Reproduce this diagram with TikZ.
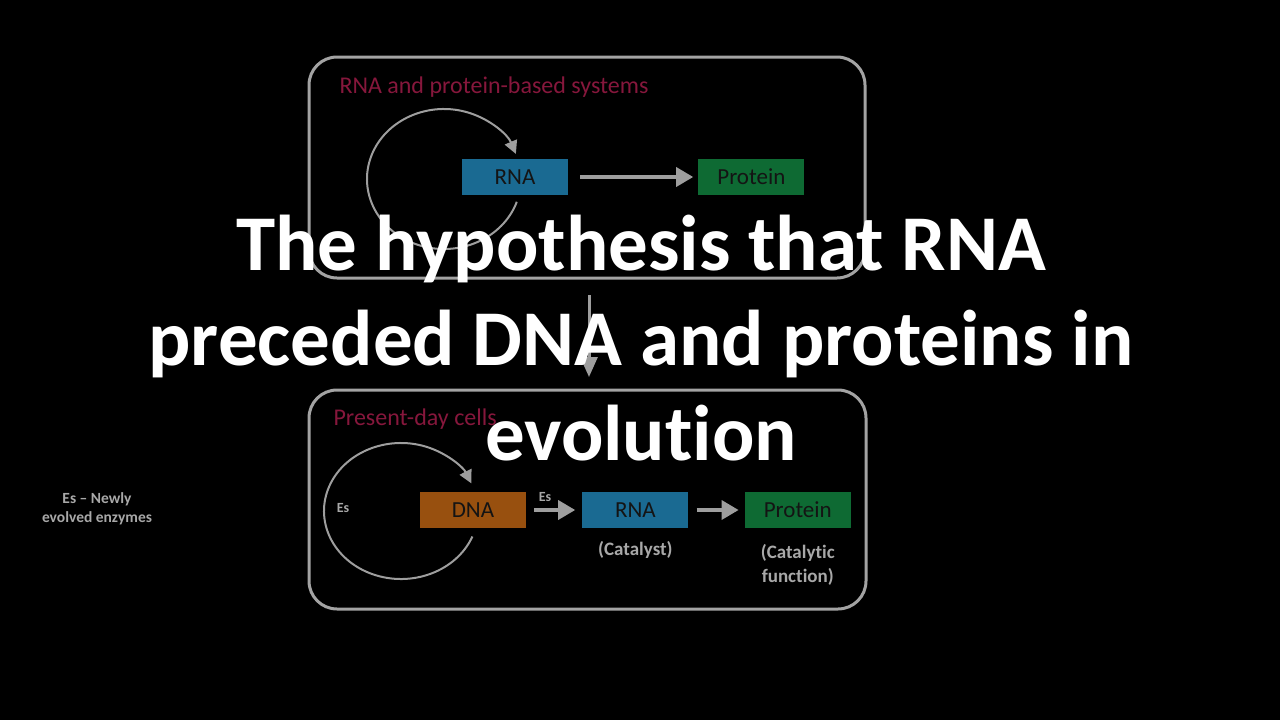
\documentclass[tikz,border=0pt]{standalone}
\usepackage{fontspec}
\setmainfont{Carlito}[Ligatures=NoCommon]
\usetikzlibrary{arrows.meta, calc, positioning}

\definecolor{framegray}{HTML}{A3A3A3}
\definecolor{arrowgray}{HTML}{9E9E9E}
\definecolor{labelred}{HTML}{86173C}
\definecolor{rnablue}{HTML}{1A6A92}
\definecolor{protgreen}{HTML}{0E6A33}
\definecolor{dnabrown}{HTML}{98500F}
\definecolor{boxtext}{HTML}{141414}
\definecolor{notegray}{HTML}{A8A8A8}

\begin{document}
\begin{tikzpicture}[
    x=1pt, y=-1pt,
    >={Triangle[length=17pt, width=19pt]},
    frame/.style={draw=framegray, line width=3pt, rounded corners=28pt},
    block/.style={rectangle, inner sep=0pt, text=boxtext,
        minimum width=106pt, minimum height=36pt,
        font=\fontsize{23}{26}\selectfont},
    flow/.style={->, draw=arrowgray, line width=3.5pt},
    loop/.style={draw=arrowgray, line width=2pt,
        -{Triangle[length=13pt, width=13pt]}},
    heading/.style={anchor=west, text=labelred, font=\fontsize{24}{28}\selectfont},
    note/.style={text=notegray, align=center, font=\bfseries\fontsize{19}{24}\selectfont},
    small/.style={text=notegray, font=\bfseries\fontsize{14}{14}\selectfont}
]

    % background
    \fill[black] (0,0) rectangle (1280,720);

    % Frames -----------------------------------------------------

    \draw[frame] (309,57) rectangle (865,278);
    \draw[frame] (309,390) rectangle (866,609);

    \node[heading] (old_label) at (336,87) {RNA and protein-based systems};
    \node[heading] (new_label) at (330,419) {Present-day cells};

    % Nodes ------------------------------------------------------

    % early world
    \node[block, fill=rnablue] (rna0) at (515,177) {RNA};
    \node[block, fill=protgreen, right=130pt of rna0] (prot0) {Protein};

    % present day
    \node[block, fill=dnabrown] (dna) at (473,510) {DNA};
    \node[block, fill=rnablue, right=56pt of dna] (rna) {RNA};
    \node[block, fill=protgreen, right=56pt of rna] (prot) {Protein};

    \node[note, below=10pt of rna] (rna_note) {(Catalyst)};
    \node[note, below=13pt of prot] (prot_note) {(Catalytic\\function)};

    \node[small] (es_loop) at (343,508) {Es};
    \node[small] (es_arrow) at (545,497) {Es};
    \node[small, align=center, font=\bfseries\fontsize{15.5}{19}\selectfont] (legend) at (97,509)
        {Es -- Newly\\evolved enzymes};

    % loops
    \coordinate (loop0) at ($(444,179)+(19:77 and 70)$);
    \coordinate (loop1) at ($(401,511)+(22:77 and 68)$);

    % Arrows ---------------------------------------------------

    \draw[flow, shorten <=12pt, shorten >=5pt] (rna0) -- (prot0);
    \draw[flow, shorten <=8pt, shorten >=7pt] (dna) -- (rna);
    \draw[flow, shorten <=8pt, shorten >=6pt] (rna) -- (prot);
    \draw[loop] (loop0) arc[start angle=19, end angle=339, x radius=77, y radius=70];
    \draw[loop] (loop1) arc[start angle=22, end angle=336, x radius=77, y radius=68];

    \coordinate (down_top) at (589,295);
    \coordinate (down_end) at (589,377);
    \draw[flow, line width=3pt, -{Triangle[length=20pt, width=17pt]}] (down_top) -- (down_end);

    % Title ------------------------------------------------------

    \node[text=white, align=center, font=\bfseries\fontsize{79}{95}\selectfont] (title) at (641,338)
        {The hypothesis that RNA\\preceded DNA and proteins in\\evolution};

\end{tikzpicture}
\end{document}
